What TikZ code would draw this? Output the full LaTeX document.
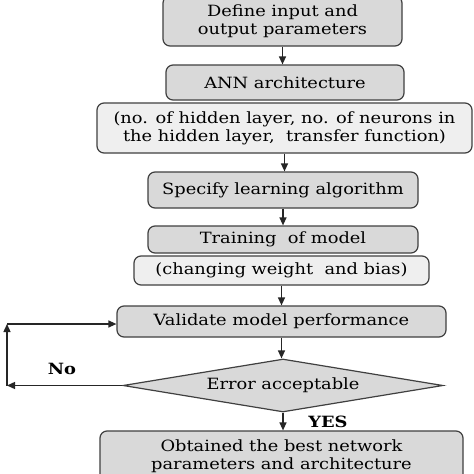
\documentclass[tikz,border=0pt]{standalone}
\usepackage{fontspec}
\setmainfont{DejaVu Serif}[FakeStretch=1.15]
\usetikzlibrary{arrows.meta,shapes.geometric}
\definecolor{boxdark}{HTML}{D9D9D9}
\definecolor{boxlight}{HTML}{EFEFEF}
\definecolor{edge}{HTML}{404040}
\tikzset{
  box/.style={draw=edge, line width=1.2pt, rounded corners=7pt, fill=boxdark, align=center, inner sep=0pt,
    font=\fontsize{15.5}{18}\selectfont},
  lbox/.style={box, fill=boxlight},
  dia/.style={draw=edge, line width=1.2pt, fill=boxdark, diamond, aspect=6, inner sep=0pt, align=center,
    font=\fontsize{15.5}{18}\selectfont},
  arr/.style={draw=black!85, line width=1.3pt, -{Triangle[length=8pt,width=7pt]}},
  lbl/.style={font=\bfseries\fontsize{15.5}{18}\selectfont}
}
\begin{document}
\begin{tikzpicture}[x=1pt,y=-1pt]
\useasboundingbox (0,0) rectangle (474,474);
\clip (0,0) rectangle (474,474);
\fill[white] (0,0) rectangle (474,474);
\node[box, minimum width=239pt, minimum height=50pt] (b1) at (282.5,21) {Define input and\\output parameters};
\node[box, minimum width=238pt, minimum height=35pt] (b2) at (285,82.5) {ANN architecture};
\node[lbox, minimum width=375pt, minimum height=50pt] (b3) at (284.5,128) {(no. of hidden layer, no. of neurons in\\the hidden layer,\ \ transfer function)};
\node[box, minimum width=270pt, minimum height=36pt] (b4) at (283,190) {Specify learning algorithm};
\node[box, minimum width=270pt, minimum height=27pt] (b5) at (283,239.5) {Training\ \ of model};
\node[lbox, minimum width=295pt, minimum height=29pt] (b6) at (281.5,270.5) {(changing weight\ \ and bias)};
\node[box, minimum width=329pt, minimum height=31pt] (b7) at (281.5,321.5) {Validate model performance};
\node[dia, minimum width=320pt, minimum height=53pt] (d) at (283,385.5) {Error acceptable};
\node[box, minimum width=363pt, minimum height=50pt] (b8) at (281.5,456) {Obtained the best network\\parameters and architecture};
\coordinate (L1) at (7,385.5);
\coordinate (L2) at (7,324);
\draw[arr] (b1.south) -- (b1.south |- b2.north);
\draw[arr] (b3.south) -- (b3.south |- b4.north);
\draw[arr] (b4.south) -- (b4.south |- b5.north);
\draw[arr] (b6.south) -- (b6.south |- b7.north);
\draw[arr] (b7.south) -- (b7.south |- d.north);
\draw[arr] (d.south) -- (d.south |- b8.north);
\draw[arr] (d.west) -- (L1);
\draw[arr] (L1) -- (L2);
\draw[arr] (L2) -- (L2 -| b7.west);
\node[lbl] (no) at (62,369) {No};
\node[lbl] (yes) at (328,422) {YES};
\end{tikzpicture}
\end{document}
